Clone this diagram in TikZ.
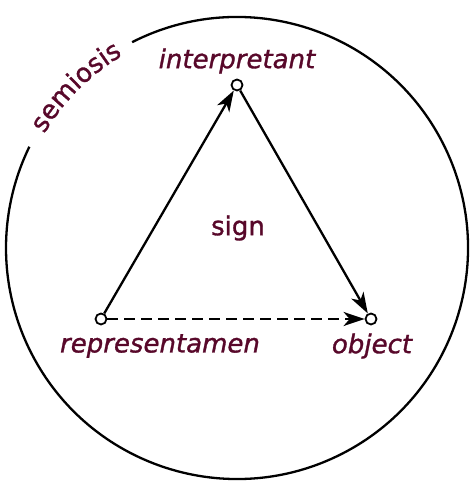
\documentclass[tikz,border=0pt]{standalone}
\usepackage{fontspec}
\setmainfont{DejaVu Sans}[FakeBold=1.2]
\usetikzlibrary{arrows.meta,decorations.text}
\definecolor{maroon}{RGB}{88,8,42}
\tikzset{
  dot/.style={circle,draw=black,fill=white,line width=1.8pt,inner sep=0pt,minimum size=11pt},
  conn/.style={line width=2.3pt,-{Stealth[length=21pt,width=14pt,inset=6pt]}},
  lbl/.style={text=maroon,font=\fontsize{26}{28}\selectfont\itshape,inner sep=0pt},
  signlbl/.style={text=maroon,font=\fontsize{26}{28}\selectfont,inner sep=0pt}
}
\begin{document}
\begin{tikzpicture}[x=1pt,y=1pt]
\useasboundingbox (0,0) rectangle (474,482);
\coordinate (C) at (237,234);
\draw[line width=2.3pt] (C) ++(117:231) arc[start angle=117,end angle=-206,radius=231];
\path[decorate,decoration={text along path,text align=center,
  text={|\fontsize{26}{28}\selectfont\color{maroon}|semiosis}}]
  (C) ++(153:224) arc[start angle=153,end angle=117,radius=224];
\node[dot] (I) at (237,397) {};
\node[dot] (R) at (101,163) {};
\node[dot] (O) at (371,163) {};
\node[lbl] (Il) at (237,421) {interpretant};
\node[lbl] (Rl) at (160,136) {representamen};
\node[lbl] (Ol) at (372,136) {object};
\node[signlbl] (S) at (238,254) {sign};
\draw[conn] (R) -- (I);
\draw[conn] (I) -- (O);
\draw[conn,dash pattern=on 11pt off 6pt] (R) -- (O);
\end{tikzpicture}
\end{document}
